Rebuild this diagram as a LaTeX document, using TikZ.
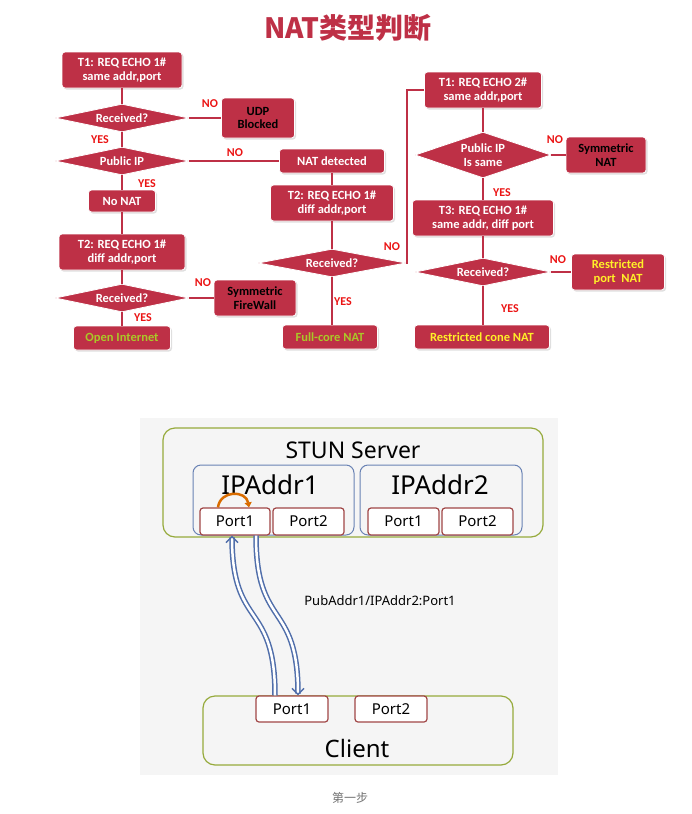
\documentclass[tikz,border=0pt]{standalone}
\usepackage{fontspec}
\setmainfont{Carlito}
\newfontfamily\ns{Noto Sans}
\newfontfamily\cjk{Noto Sans CJK SC}
\usetikzlibrary{shapes.geometric,shadows,arrows.meta}
\definecolor{natred}{RGB}{190,48,70}
\definecolor{yesred}{RGB}{235,20,20}
\definecolor{okgreen}{RGB}{170,200,40}
\definecolor{okyellow}{RGB}{255,240,40}
\definecolor{olive}{RGB}{150,170,60}
\definecolor{slate}{RGB}{105,130,180}
\definecolor{portred}{RGB}{160,70,70}
\definecolor{flowblue}{RGB}{80,110,170}
\tikzset{
  box/.style={draw=white,line width=0.8pt,fill=natred,rounded corners=3pt,text=white,
    font=\bfseries\fontsize{12.5}{13.5}\selectfont,align=center,inner sep=2pt,
    drop shadow={opacity=0.25,shadow xshift=1.5pt,shadow yshift=-1.5pt}},
  dia/.style={diamond,aspect=5,draw=white,line width=0.8pt,fill=natred,text=white,inner sep=0pt,
    font=\bfseries\fontsize{12.5}{13.5}\selectfont,align=center},
  lab/.style={text=yesred,font=\bfseries\fontsize{12}{13}\selectfont},
  link/.style={draw=natred,line width=2pt},
  srv/.style={draw=olive,line width=1.2pt,rounded corners=12pt},
  ip/.style={draw=slate,line width=1pt,rounded corners=8pt},
  port/.style={draw=portred,line width=1.2pt,rounded corners=3pt,fill=white,
    font=\ns\fontsize{15}{17}\selectfont},
  flow/.style={draw=flowblue,double=white,double distance=2.5pt,line width=1.5pt,
    -{Straight Barb[length=6pt,width=12pt]}}
}
\begin{document}
\begin{tikzpicture}[x=1pt,y=-1pt]
\useasboundingbox (0,0) rectangle (692,814);
\fill[white] (0,0) rectangle (692,814);
\node[text=natred,font=\cjk\bfseries\fontsize{28}{30}\selectfont] (title) at (348,28) {NAT类型判断};

% left column
\node[box,minimum width=120,minimum height=36] (t1) at (122,70) {T1: REQ ECHO 1\#\\same addr,port};
\node[dia,minimum width=134,minimum height=28] (r1) at (122,118) {Received?};
\node[box,minimum width=73,minimum height=40,text=black] (udp) at (258,118) {UDP\\Blocked};
\node[dia,minimum width=134,minimum height=28] (pip) at (122,161) {Public IP};
\node[box,minimum width=105,minimum height=24] (natd) at (332,161) {NAT detected};
\node[box,minimum width=67,minimum height=22] (nonat) at (122,201) {No NAT};
\node[box,minimum width=126,minimum height=36] (t2) at (122,252) {T2: REQ ECHO 1\#\\diff addr,port};
\node[dia,minimum width=134,minimum height=28] (r2) at (122,298) {Received?};
\node[box,minimum width=82,minimum height=36,text=black] (sfw) at (255,298) {Symmetric\\FireWall};
\node[box,minimum width=97,minimum height=24,text=okgreen] (open) at (122,338) {Open Internet};
\draw[link] (t1) -- (r1) (r1) -- (pip) (pip) -- (nonat) (nonat) -- (t2) (t2) -- (r2) (r2) -- (open);
\draw[link] (r1.east) -- (udp.west);
\draw[link] (pip.east) -- (natd.west);
\draw[link] (r2.east) -- (sfw.west);
\node[lab] (n1) at (210,104) {NO};
\node[lab] (y1) at (100,140) {YES};
\node[lab] (n2) at (235,153) {NO};
\node[lab] (y2) at (147,184) {YES};
\node[lab] (n3) at (203,283) {NO};
\node[lab] (y3) at (143,318) {YES};

% middle column
\node[box,minimum width=123,minimum height=36] (t2m) at (332,203) {T2: REQ ECHO 1\#\\diff addr,port};
\node[dia,minimum width=148,minimum height=28] (r3) at (332,263) {Received?};
\node[box,minimum width=95,minimum height=24,text=okgreen] (full) at (330,337) {Full-core NAT};
\coordinate (k) at (407,263);
\draw[link] (natd) -- (t2m) (t2m) -- (r3) (r3) -- (r3 |- full.north);
\node[lab] (n4) at (392,247) {NO};
\node[lab] (y4) at (343,302) {YES};

% right column
\node[box,minimum width=117,minimum height=36] (t1b) at (483,90) {T1: REQ ECHO 2\#\\same addr,port};
\node[dia,aspect=3,minimum width=136,minimum height=46] (same) at (483,155) {Public IP\\Is same};
\node[box,minimum width=80,minimum height=36,text=black] (sym) at (606,155) {Symmetric\\NAT};
\node[box,minimum width=141,minimum height=36] (t3) at (483,218) {T3: REQ ECHO 1\#\\same addr, diff port};
\node[dia,minimum width=136,minimum height=28] (r4) at (483,272) {Received?};
\node[box,minimum width=93,minimum height=36,text=okyellow] (rport) at (618,272) {Restricted\\port\ \ NAT};
\node[box,minimum width=135,minimum height=24,text=okyellow] (rcone) at (482,337) {Restricted cone NAT};
\draw[link] (r3.east) -- (k) |- (t1b.west);
\draw[link] (t1b) -- (same) (same) -- (t3) (t3) -- (r4) (r4) -- (r4 |- rcone.north);
\draw[link] (same.east) -- (sym.west);
\draw[link] (r4.east) -- (rport.west);
\node[lab] (n5) at (555,140) {NO};
\node[lab] (y5) at (502,193) {YES};
\node[lab] (n6) at (558,260) {NO};
\node[lab] (y6) at (510,309) {YES};

% STUN picture
\fill[black!4] (140,418) rectangle (558,775);
\draw[srv] (163,428) rectangle (543,537);
\node[font=\ns\fontsize{23}{25}\selectfont] (stun) at (353,450) {STUN Server};
\draw[ip] (193,465) rectangle (354,535);
\draw[ip] (360,465) rectangle (522,535);
\node[font=\ns\fontsize{26}{28}\selectfont] (ip1) at (270,485) {IPAddr1};
\node[font=\ns\fontsize{26}{28}\selectfont] (ip2) at (440,485) {IPAddr2};
\node[port,minimum width=70,minimum height=27] (s1) at (235,521.5) {Port1};
\node[port,minimum width=71,minimum height=27] (s2) at (308.5,521.5) {Port2};
\node[port,minimum width=71,minimum height=27] (s3) at (403.5,521.5) {Port1};
\node[port,minimum width=71,minimum height=27] (s4) at (477.5,521.5) {Port2};
\draw[draw=orange!85!black,line width=2.5pt,-{Triangle[length=5pt,width=7pt]}]
  ([xshift=-17pt]s1.north) .. controls (220,490) and (246,490) .. ([xshift=14pt]s1.north);

\draw[srv] (203,696) rectangle (513,765);
\node[port,minimum width=72,minimum height=26] (c1) at (292,709) {Port1};
\node[port,minimum width=72,minimum height=26] (c2) at (391,709) {Port2};
\node[font=\ns\fontsize{24}{26}\selectfont] (cl) at (357,748) {Client};

\draw[flow] ([xshift=-17pt]c1.north) .. controls (275,600) and (232,630) .. ([xshift=-3pt]s1.south);
\draw[flow] ([xshift=21pt]s1.south) .. controls (256,630) and (298,600) .. ([xshift=6pt]c1.north);
\node[font=\ns\fontsize{13}{15}\selectfont] (pub) at (380,601) {PubAddr1/IPAddr2:Port1};
\node[text=black!55,font=\cjk\fontsize{12}{14}\selectfont] (cap) at (350,798) {第一步};
\end{tikzpicture}
\end{document}
